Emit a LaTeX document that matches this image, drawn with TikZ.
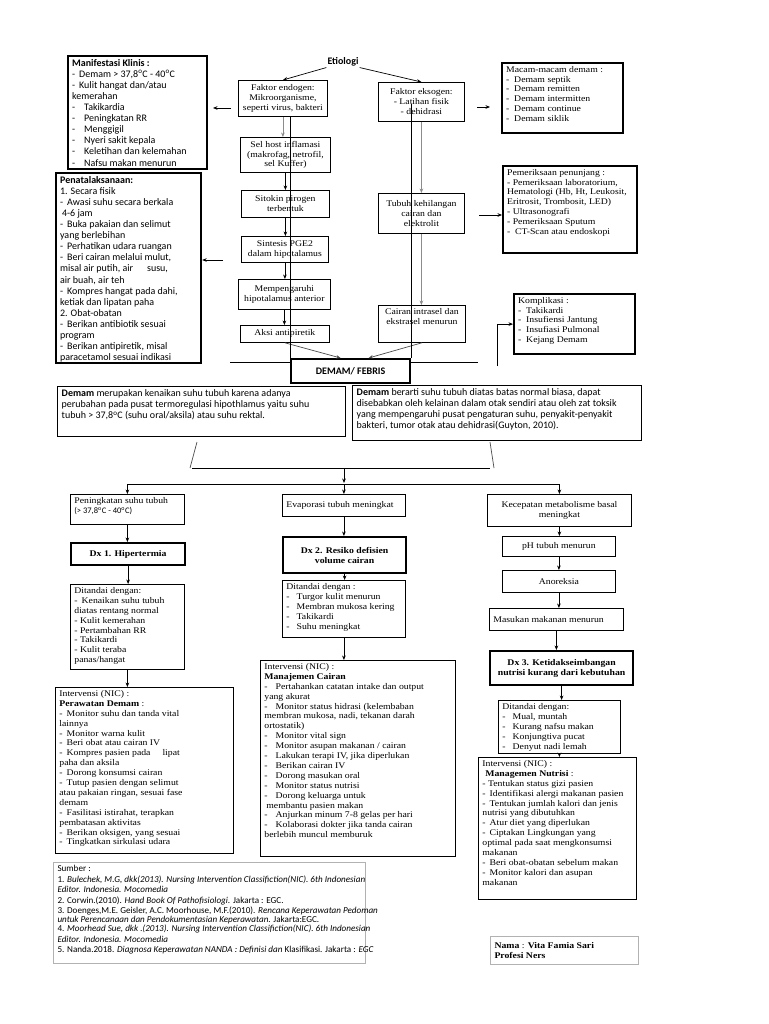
\documentclass[tikz,border=0pt]{standalone}
\usepackage{fontspec}
\usetikzlibrary{arrows.meta,calc}
\newfontfamily\calf{Carlito}
\newfontfamily\serf[FakeStretch=1.12]{Liberation Serif}
\newcommand\sansS{\calf\fontsize{10}{11.1}\selectfont}
\newcommand\serS{\serf\fontsize{8.7}{9.9}\selectfont}
\newcommand\dg{\textsuperscript{o}}
\newcommand\dl{-\hspace{9pt}}
\setlength\parindent{0pt}
\tikzset{
  bxthin/.style={draw, line width=0.8pt, fill=white},
  bxthick/.style={draw, line width=2.2pt, fill=white},
  bxmed/.style={draw, line width=1.4pt, fill=white},
  bxgray/.style={draw=black!30, line width=1pt, fill=white},
  arr/.style={-{Stealth[length=4.5pt,width=3.6pt]}, line width=0.7pt},
  garr/.style={arr, draw=black!45},
  ln/.style={line width=0.7pt},
}
% name, style, x, y, w, h, vpos, content
\newcommand\bx[8]{\node[#2, anchor=north west, minimum width=#5pt, minimum height=#6pt, inner sep=0pt] (#1) at (#3,#4) {\parbox[c][\dimexpr#6pt-6pt\relax][#7]{\dimexpr#5pt-8pt\relax}{#8}};}
\begin{document}
\begin{tikzpicture}[x=1pt,y=-1pt]
\useasboundingbox[fill=white] (0,0) rectangle (768,1024);

% background line behind DEMAM
\coordinate (hA) at (230,362);
\coordinate (hB) at (478,362);
\draw[ln] (hA) -- (hB);

% ---------- top section ----------
\bx{manif}{bxthick}{67}{55}{139}{113}{t}{\sansS
\textbf{Manifestasi Klinis :}\\
-\hspace{4pt}Demam > 37,8\dg C - 40\dg C\\
-\hspace{4pt}Kulit hangat dan/atau\\
kemerahan\\
\dl Takikardia\\
\dl Peningkatan RR\\
\dl Menggigil\\
\dl Nyeri sakit kepala\\
\dl Keletihan dan kelemahan\\
\dl Nafsu makan menurun}

\node[font=\calf\fontsize{10}{11}\selectfont\bfseries, inner sep=1pt] (etio) at (343,62) {Etiologi};

\bx{endo}{bxthin}{238}{80}{89}{36}{c}{\serS\centering
Faktor endogen:\\ Mikroorganisme,\\ seperti virus, bakteri}
\bx{ekso}{bxthin}{378}{82}{86}{39}{c}{\serS\centering
Faktor eksogen:\\ - Latihan fisik\\ - dehidrasi}

\bx{macam}{bxthick}{501}{62}{121}{70}{t}{\serS
Macam-macam demam :\\
- \ Demam septik\\
- \ Demam remitten\\
- \ Demam intermitten\\
-\ \ Demam continue\\
-\ \ Demam siklik}

\bx{selhost}{bxthin}{240}{137}{90}{35}{c}{\serS\centering
Sel host inflamasi\\ (makrofag, netrofil,\\ sel Kuffer)}
\bx{sitokin}{bxthin}{241}{190}{88}{27}{c}{\serS\centering
Sitokin pirogen\\ terbentuk}
\bx{sintesis}{bxthin}{241}{236}{87}{26}{c}{\serS\centering
Sintesis PGE2\\ dalam hipotalamus}
\bx{mempeng}{bxthin}{238}{279}{92}{30}{c}{\serS\centering
Mempengaruhi\\ hipotalamus anterior}
\bx{aksi}{bxthin}{240}{325}{89}{17}{c}{\serS\centering Aksi antipiretik}

\bx{tubuh}{bxthin}{378}{193}{86}{40}{c}{\serS\centering
Tubuh kehilangan\\ cairan dan\\ elektrolit}
\bx{cairan}{bxthin}{378}{305}{87}{37}{t}{\serS\centering
Cairan intrasel dan\\ ekstrasel menurun}

\node[bxthick, anchor=north west, minimum width=119pt, minimum height=24pt, inner sep=0pt,
  font=\calf\fontsize{10}{11}\selectfont\bfseries] (demam) at (290,358) {DEMAM/ FEBRIS};

\bx{pen}{bxthick}{55}{172}{145}{190}{t}{\sansS
\textbf{Penatalaksanaan:}\\
1. Secara fisik\\
-\hspace{4pt}Awasi suhu secara berkala\\
\hspace*{2pt}4-6 jam\\
-\hspace{4pt}Buka pakaian dan selimut\\
yang berlebihan\\
-\hspace{4pt}Perhatikan udara ruangan\\
-\hspace{4pt}Beri cairan melalui mulut,\\
misal air putih, air\hspace{14pt}susu,\\
air buah, air teh\\
-\hspace{4pt}Kompres hangat pada dahi,\\
ketiak dan lipatan paha\\
2. Obat-obatan\\
-\hspace{4pt}Berikan antibiotik sesuai\\
program\\
-\hspace{4pt}Berikan antipiretik, misal\\
paracetamol sesuai indikasi}

\bx{pem}{bxthick}{502}{165}{134}{87}{t}{\serS
Pemeriksaan penunjang :\\
- Pemeriksaan laboratorium,\\
Hematologi (Hb, Ht, Leukosit,\\
Eritrosit, Trombosit, LED)\\
- Ultrasonografi\\
- Pemeriksaan Sputum\\
- \ CT-Scan atau endoskopi}

\bx{kompl}{bxthick}{513}{293}{121}{60}{t}{\serS
Komplikasi :\\
- \ Takikardi\\
- \ Insufiensi Jantung\\
- \ Insufiasi Pulmonal\\
- \ Kejang Demam}

% ---------- definitions ----------
\bx{defL}{bxmed}{57}{386}{288}{50}{t}{\sansS
\textbf{Demam} merupakan kenaikan suhu tubuh karena adanya\\
perubahan pada pusat termoregulasi hipothlamus yaitu suhu\\
tubuh > 37,8\dg C (suhu oral/aksila) atau suhu rektal.}
\bx{defR}{bxmed}{352}{385}{289}{55}{t}{\sansS
\textbf{Demam} berarti suhu tubuh diatas batas normal biasa, dapat\\
disebabkan oleh kelainan dalam otak sendiri atau oleh zat toksik\\
yang mempengaruhi pusat pengaturan suhu, penyakit-penyakit\\
bakteri, tumor otak atau dehidrasi(Guyton, 2010).}

% ---------- lower section ----------
\bx{pen2}{bxthin}{70}{494}{114}{30}{t}{\serS
Peningkatan suhu tubuh\\ {\calf\fontsize{8.5}{9.9}\selectfont (> 37,8\dg C - 40\dg C)}}
\bx{evap}{bxthin}{282}{494}{123}{22}{c}{\serS Evaporasi tubuh meningkat}
\bx{kec}{bxthin}{487}{494}{144}{32}{c}{\serS\centering
Kecepatan metabolisme basal\\ meningkat}

\bx{dx1}{bxthick}{70}{542}{114}{22}{c}{\serS\centering\bfseries Dx 1. Hipertermia}
\bx{dx2}{bxthick}{282}{536}{123}{36}{c}{\serS\centering\bfseries Dx 2. Resiko defisien\\ volume cairan}
\bx{ph}{bxthin}{502}{536}{113}{20}{c}{\serS\centering pH tubuh menurun}
\bx{anor}{bxthin}{502}{570}{113}{22}{c}{\serS\centering Anoreksia}
\bx{masuk}{bxthin}{489}{608}{134}{22}{c}{\serS Masukan makanan menurun}
\bx{dx3}{bxthick}{489}{650}{143}{34}{c}{\serS\centering\bfseries Dx 3. Ketidakseimbangan\\ nutrisi kurang dari kebutuhan}

\bx{ditL}{bxthin}{70}{584}{114}{85}{t}{\serS
Ditandai dengan:\\
-\hspace{4pt}Kenaikan suhu tubuh\\
diatas rentang normal\\
- Kulit kemerahan\\
- Pertambahan RR\\
- Takikardi\\
- Kulit teraba\\
panas/hangat}

\bx{ditM}{bxthin}{282}{580}{123}{57}{t}{\serS
Ditandai dengan :\\
-\hspace{7pt}Turgor kulit menurun\\
-\hspace{7pt}Membran mukosa kering\\
-\hspace{7pt}Takikardi\\
-\hspace{7pt}Suhu meningkat}

\bx{ditR}{bxthin}{498}{700}{122}{53}{t}{\serS
Ditandai dengan:\\
-\hspace{7pt}Mual, muntah\\
-\hspace{7pt}Kurang nafsu makan\\
-\hspace{7pt}Konjungtiva pucat\\
-\hspace{7pt}Denyut nadi lemah}

\bx{intL}{bxthin}{55}{687}{178}{166}{t}{\serS
Intervensi (NIC) :\\
\textbf{Perawatan Demam} :\\
-\hspace{4pt}Monitor suhu dan tanda vital\\
lainnya\\
-\hspace{4pt}Monitor warna kulit\\
-\hspace{4pt}Beri obat atau cairan IV\\
-\hspace{4pt}Kompres pasien pada\hspace{12pt}lipat\\
paha dan aksila\\
-\hspace{4pt}Dorong konsumsi cairan\\
-\hspace{4pt}Tutup pasien dengan selimut\\
atau pakaian ringan, sesuai fase\\
demam\\
-\hspace{4pt}Fasilitasi istirahat, terapkan\\
pembatasan aktivitas\\
-\hspace{4pt}Berikan oksigen, yang sesuai\\
-\hspace{4pt}Tingkatkan sirkulasi udara}

\bx{intM}{bxthin}{260}{660}{195}{196}{t}{\serS
Intervensi (NIC) :\\
\textbf{Manajemen Cairan}\\
-\hspace{8pt}Pertahankan catatan intake dan output\\
yang akurat\\
-\hspace{8pt}Monitor status hidrasi (kelembaban\\
membran mukosa, nadi, tekanan darah\\
ortostatik)\\
-\hspace{8pt}Monitor vital sign\\
-\hspace{8pt}Monitor asupan makanan / cairan\\
-\hspace{8pt}Lakukan terapi IV, jika diperlukan\\
-\hspace{8pt}Berikan cairan IV\\
-\hspace{8pt}Dorong masukan oral\\
-\hspace{8pt}Monitor status nutrisi\\
-\hspace{8pt}Dorong keluarga untuk\\
\hspace*{2pt}membantu pasien makan\\
-\hspace{8pt}Anjurkan minum 7-8 gelas per hari\\
-\hspace{8pt}Kolaborasi dokter jika tanda cairan\\
berlebih muncul memburuk}

\bx{intR}{bxthin}{478}{757}{158}{142}{t}{\serS
Intervensi (NIC) :\\
\hspace*{3pt}\textbf{Managemen Nutrisi} :\\
- Tentukan status gizi pasien\\
-\hspace{4pt}Identifikasi alergi makanan pasien\\
-\hspace{4pt}Tentukan jumlah kalori dan jenis\\
nutrisi yang dibutuhkan\\
-\hspace{4pt}Atur diet yang diperlukan\\
-\hspace{4pt}Ciptakan Lingkungan yang\\
optimal pada saat mengkonsumsi\\
makanan\\
-\hspace{4pt}Beri obat-obatan sebelum makan\\
-\hspace{4pt}Monitor kalori dan asupan\\
makanan}

\bx{sumber}{bxgray}{53}{862}{312}{101}{t}{\calf\fontsize{9.1}{10.5}\selectfont
\mbox{Sumber :}\\
\mbox{1. \textit{Bulechek, M.G, dkk(2013). Nursing Intervention Classifiction(NIC). 6th Indonesian}}\\
\mbox{\textit{Editor. Indonesia. Mocomedia}}\\
\mbox{2. Corwin.(2010). \textit{Hand Book Of Pathofisiologi}. Jakarta : EGC.}\\
\mbox{3. Doenges,M.E. Geisler, A.C. Moorhouse, M.F.(2010). \textit{Rencana Keperawatan Pedoman}}\\[-1.5pt]
\mbox{\textit{untuk Perencanaan dan Pendokumentasian Keperawatan}. Jakarta:EGC.}\\[-1.5pt]
\mbox{4. \textit{Moorhead Sue, dkk .(2013). Nursing Intervention Classifiction(NIC). 6th Indonesian}}\\
\mbox{\textit{Editor. Indonesia. Mocomedia}}\\
\mbox{5. Nanda.2018. \textit{Diagnosa Keperawatan NANDA : Definisi dan} Klasifikasi. Jakarta : \textit{EGC}}}

\bx{nama}{bxgray}{490}{936}{148}{28}{c}{\serS
\textbf{Nama} : \textbf{Vita Famia Sari}\\ \textbf{Profesi Ners}}

% ---------- connectors ----------
\draw[arr] (etio.south west) -- (endo.north);
\draw[arr] (etio.south east) -- (ekso.north);
\draw[garr] (endo.south) -- (endo.south |- selhost.north);
\draw[arr] (selhost.south) -- (selhost.south |- sitokin.north);
\draw[arr] (sitokin.south) -- (sitokin.south |- sintesis.north);
\draw[arr] (sintesis.south) -- (sintesis.south |- mempeng.north);
\draw[arr] (mempeng.south) -- (mempeng.south |- aksi.north);
\draw[garr] (ekso.south) -- (ekso.south |- tubuh.north);
\draw[garr] (tubuh.south) -- (tubuh.south |- cairan.north);
\draw[arr, draw=black!70] (aksi.south) -- ($(demam.north)+(-10,0)$);
\draw[arr, draw=black!70] (cairan.south) -- ($(demam.north)+(18,0)$);

% long vertical lines on the sides of DEMAM
\draw[ln] (demam.north west) -- (demam.north west |- endo.south);
\draw[ln] (demam.north east) -- ++(0,-254);

% side arrows
\coordinate (tl) at (231,108);
\coordinate (tl2) at (213,108);
\draw[arr] (tl) -- (tl2);
\coordinate (tr) at (477,107);
\draw[arr] (tr) -- ++(13,0);
\coordinate (pl) at (223,260);
\draw[arr] (pl) -- (pl -| pen.east);
\coordinate (pr) at (479,215);
\draw[arr] (pr) -- (pr -| pem.west);
\coordinate (kb) at (497,366);
\draw[arr] (kb) |- (kompl.west);

% below definitions
\coordinate (sa) at (197,442);
\coordinate (sb) at (190,468);
\coordinate (sc) at (490,442);
\coordinate (sd) at (494,468);
\draw[ln, draw=black!70] (sa) -- (sb);
\draw[ln, draw=black!70] (sc) -- (sd);
\coordinate (h1a) at (192,468);
\coordinate (h1b) at (490,468);
\draw[ln] (h1a) -- (h1b);
\coordinate (m1) at (344,469);
\coordinate (m2) at (344,483);
\draw[arr] (m1) -- (m2);
\coordinate (h2a) at (127,484);
\coordinate (h2b) at (559,484);
\draw[ln] (h2a) -- (h2b);
\draw[arr] (pen2.north |- h2a) -- (pen2.north);
\draw[arr] (evap.north |- h2a) -- (evap.north);
\draw[arr] (kec.north |- h2a) -- (kec.north);
\draw[arr] (pen2.south) -- (pen2.south |- dx1.north);
\draw[arr] (evap.south) -- (evap.south |- dx2.north);
\draw[arr] (kec.south) -- (kec.south |- ph.north);
\draw[arr] (dx1.south) -- (dx1.south |- ditL.north);
\draw[arr] (ditL.south) -- (ditL.south |- intL.north);
\draw[arr] (dx2.south) -- (dx2.south |- ditM.north);
\draw[arr] (ditM.south) -- (ditM.south |- intM.north);
\draw[arr] (ph.south) -- (ph.south |- anor.north);
\draw[arr] (anor.south) -- (anor.south |- masuk.north);
\draw[arr] (masuk.south) -- (masuk.south |- dx3.north);
\draw[arr] (dx3.south) -- (dx3.south |- ditR.north);
\draw[arr] (ditR.south) -- (ditR.south |- intR.north);
\end{tikzpicture}
\end{document}
